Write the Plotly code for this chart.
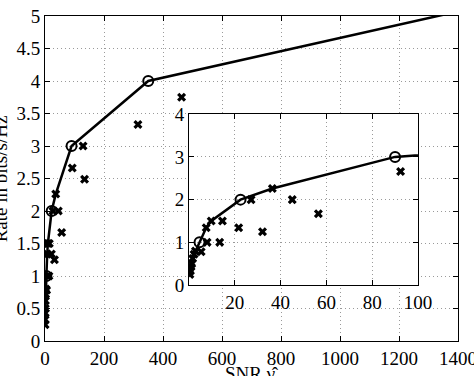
import plotly.graph_objects as go

# ---- data ----
line_snr = [0.4, 1.2, 2.5, 4.6, 7.5, 9.7, 22.5, 36.4, 90, 350, 1400]
line_rate = [0.25, 0.5, 0.75, 1.0, 1.34, 1.5, 2.0, 2.26, 3.0, 4.0, 5.07]

circ_snr = [4.6, 22.5, 90, 350]
circ_rate = [1, 2, 3, 4]

cross_snr = [0.4, 0.6, 0.9, 1.2, 1.6, 2.2, 2.8, 5.3, 7.9, 13.4, 7.5, 9.7, 14.6,
             21.7, 32.1, 27.1, 45.1, 56.5, 36.4, 92.4, 134, 129, 315, 463]
cross_rate = [0.25, 0.33, 0.43, 0.5, 0.62, 0.72, 0.8, 0.78, 1.0, 1.0, 1.34, 1.5, 1.5,
              1.34, 1.25, 2.0, 2.0, 1.67, 2.26, 2.66, 2.49, 3.0, 3.33, 3.75]

main_xticks = [0, 200, 400, 600, 800, 1000, 1200, 1400]
main_yticks = [0, 0.5, 1, 1.5, 2, 2.5, 3, 3.5, 4, 4.5, 5]
inset_xticks = [20, 40, 60, 80, 100]
inset_yticks = [0, 1, 2, 3, 4]

FONT = "Liberation Serif"
fig = go.Figure()

for xa, ya in [("x", "y"), ("x2", "y2")]:
    fig.add_trace(go.Scatter(x=line_snr, y=line_rate, mode="lines",
                             line=dict(color="black", width=2.5),
                             xaxis=xa, yaxis=ya, hoverinfo="skip"))
    fig.add_trace(go.Scatter(x=circ_snr, y=circ_rate, mode="markers",
                             marker=dict(symbol="circle-open", size=10, color="black",
                                         line=dict(width=2, color="black")),
                             xaxis=xa, yaxis=ya, cliponaxis=True))
    fig.add_trace(go.Scatter(x=cross_snr, y=cross_rate, mode="markers",
                             marker=dict(symbol="x", size=8, color="black",
                                         line=dict(width=0)),
                             xaxis=xa, yaxis=ya, cliponaxis=True))

axis_common = dict(
    showline=True, linecolor="black", linewidth=1, mirror="ticks",
    ticks="inside", ticklen=5, tickcolor="black", tickwidth=1,
    showgrid=True, gridcolor="#9a9a9a", griddash="1px,3px", gridwidth=1,
    zeroline=False, automargin=False, ticklabeloverflow="allow",
    tickfont=dict(family=FONT, size=19, color="black"),
)

fig.update_layout(
    template="none",
    width=474, height=376,
    margin=dict(l=45, r=16, t=16, b=35, autoexpand=False),
    paper_bgcolor="white", plot_bgcolor="white",
    showlegend=False,
    xaxis=dict(domain=[0, 1], range=[0, 1400], tickvals=main_xticks,
               ticktext=[str(v) for v in main_xticks], anchor="y", **axis_common),
    yaxis=dict(domain=[0, 1], range=[0, 5], tickvals=main_yticks,
               ticktext=[("%g" % v) for v in main_yticks], anchor="x", **axis_common),
    xaxis2=dict(domain=[0.3487, 0.9031], range=[0, 100], tickvals=inset_xticks,
                ticktext=[str(v) for v in inset_xticks], anchor="y2", **axis_common),
    yaxis2=dict(domain=[0.172, 0.698], range=[0, 4], tickvals=inset_yticks,
                ticktext=[str(v) for v in inset_yticks], anchor="x2", **axis_common),
    annotations=[
        dict(text="SNR \u03b3\u0302", xref="paper", yref="paper", x=0.5, y=0,
             xanchor="center", yanchor="top", yshift=-20, showarrow=False,
             font=dict(family=FONT, size=19, color="black")),
        dict(text="Rate in bits/s/Hz", xref="paper", yref="paper", x=-0.107, y=0.5,
             xanchor="center", yanchor="middle", textangle=-90, showarrow=False,
             font=dict(family=FONT, size=19, color="black")),
    ],
)

fig.write_html("out.html", config={"displayModeBar": False},
               post_script="document.body.style.margin='0';document.body.style.overflow='hidden';")
